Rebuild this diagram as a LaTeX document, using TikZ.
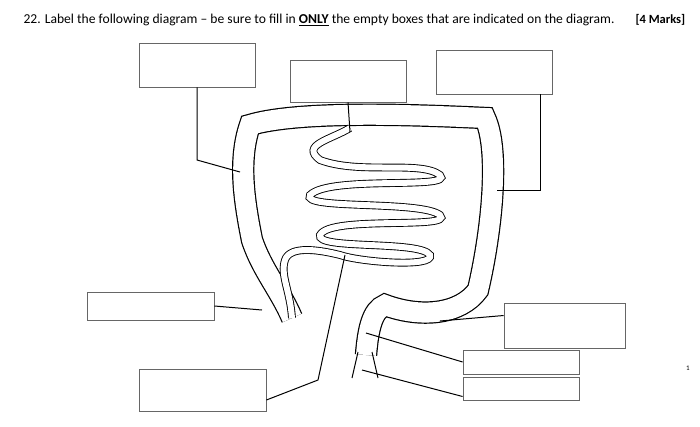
\documentclass[tikz,border=0pt]{standalone}
\usepackage{fontspec}
\setmainfont{Carlito}
\begin{document}
\begin{tikzpicture}[x=1pt,y=-1pt,
  lbox/.style={draw=gray!80!black,line width=0.8pt},
  lead/.style={draw,line width=1pt},
  tube/.style={double=white,draw=black,line width=1.2pt,double distance=20pt},
  smalltube/.style={double=white,draw=black,line width=0.9pt,double distance=6pt}]
\useasboundingbox (0,0) rectangle (700,426);
\node[anchor=west,font=\fontsize{13.6}{15}\selectfont] (title) at (20,20) {22. Label the following diagram -- be sure to fill in \textbf{\underline{ONLY}} the empty boxes that are indicated on the diagram.};
\node[anchor=west,font=\fontsize{12.5}{14}\selectfont\bfseries] (marks) at (632,20) {[4 Marks]};
\node[font=\scriptsize] (pg) at (688,368) {1};
% large intestine
\draw[tube] (292,318) .. controls (280,290) and (262,270) .. (252,240)
  .. controls (244,200) and (238,160) .. (250,125)
  .. controls (300,110) and (420,115) .. (485,118)
  .. controls (500,150) and (492,230) .. (478,290)
  .. controls (460,315) and (420,318) .. (385,305)
  .. controls (372,310) and (368,330) .. (366,355);
\draw[line width=1pt] (358,352) -- (352,378) (372,352) -- (378,378);
% small intestine
\draw[smalltube] (350,128) .. controls (330,140) and (300,145) .. (320,160)
  .. controls (360,175) and (420,160) .. (440,175)
  .. controls (455,190) and (330,175) .. (310,195)
  .. controls (300,210) and (420,200) .. (440,215)
  .. controls (455,230) and (330,215) .. (320,235)
  .. controls (315,250) and (420,240) .. (430,255)
  .. controls (435,268) and (360,262) .. (340,255)
  .. controls (320,250) and (290,245) .. (285,260)
  .. controls (280,275) and (290,290) .. (292,318);
% boxes
\node[lbox,minimum width=116pt,minimum height=44pt] (b1) at (197,65) {};
\node[lbox,minimum width=116pt,minimum height=42pt] (b2) at (348,81) {};
\node[lbox,minimum width=116pt,minimum height=44pt] (b3) at (494,72) {};
\node[lbox,minimum width=127pt,minimum height=28pt] (b4) at (150.5,306) {};
\node[lbox,minimum width=127pt,minimum height=42pt] (b5) at (202.5,390) {};
\node[lbox,minimum width=121pt,minimum height=45pt] (b6) at (564.5,325.5) {};
\node[lbox,minimum width=116pt,minimum height=24pt] (b7) at (521,362) {};
\node[lbox,minimum width=116pt,minimum height=23pt] (b8) at (521,388.5) {};
\coordinate (c1) at (197,160); \coordinate (e1) at (240,172);
\coordinate (e2) at (350,132);
\coordinate (c3) at (540,190); \coordinate (e3) at (497,190);
\coordinate (e4) at (262,310);
\coordinate (c5) at (318,380); \coordinate (e5) at (345,255);
\coordinate (e6) at (440,321);
\coordinate (e7) at (366,333);
\coordinate (e8) at (362,370);
\draw[lead] (b1.south) -- (c1) -- (e1);
\draw[lead] (b2.south) -- (e2);
\draw[lead] (b3.south -| c3) -- (c3) -- (e3);
\draw[lead] (b4.east) -- (e4);
\draw[lead] ([yshift=-10pt]b5.east) -- (c5) -- (e5);
\draw[lead] ([yshift=10pt]b6.west) -- (e6);
\draw[lead] (b7.west) -- (e7);
\draw[lead] ([yshift=-8pt]b8.west) -- (e8);
\end{tikzpicture}
\end{document}
